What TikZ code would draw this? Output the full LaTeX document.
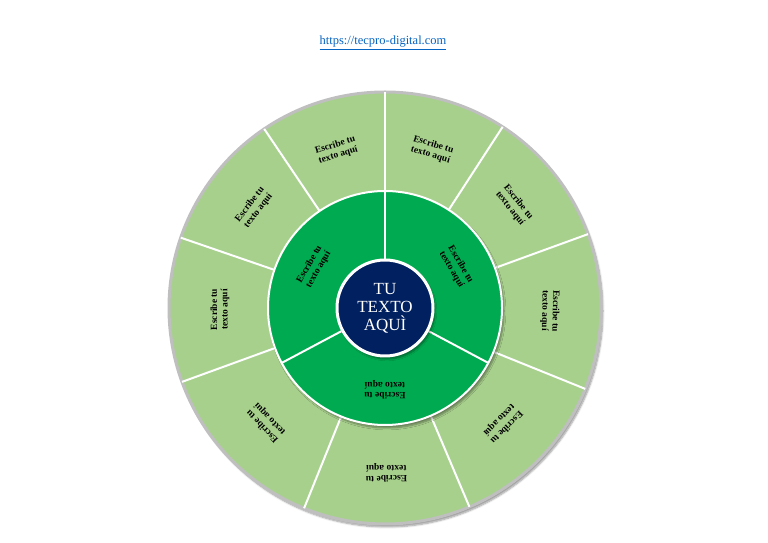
\documentclass[tikz,border=0pt]{standalone}
\usepackage{fontspec}
\setmainfont{Liberation Serif}
\usetikzlibrary{shadows.blur}
\definecolor{outerg}{RGB}{168,208,141}
\definecolor{ringg}{RGB}{0,170,80}
\definecolor{navy}{RGB}{0,32,96}
\definecolor{linkb}{RGB}{5,99,193}
\tikzset{
  divider/.style={draw=white,line width=2pt},
  small/.style={font=\fontsize{9.5}{10.5}\selectfont\bfseries,align=center,text=black,inner sep=1pt},
}
\begin{document}
\begin{tikzpicture}[x=1pt,y=1pt]
\useasboundingbox (0,0) rectangle (768,543);
\coordinate (c) at (385,235);
\node[font=\fontsize{12.5}{14}\selectfont,text=linkb] (link) at (383,500) {\underline{https://tecpro-digital.com}};
% outer disc
\fill[outerg,draw=gray!50,line width=3pt,blur shadow={shadow blur steps=6,shadow xshift=2pt,shadow yshift=-3pt}] (c) circle (216);
\foreach \a in {90,57,20,-22,-67,-112,-160,161,124}
  \draw[divider] (c) -- ++(\a:216);
\foreach \m/\n in {73.5/o1,38.5/o2,-1/o3,-44.5/o4,-89.5/o5,-136/o6,180.5/o7,142.5/o8,107/o9}
  \node[small,rotate=\m-90] (\n) at ($(c)+(\m:165)$) {Escribe tu\\texto aquí};
% middle ring
\fill[ringg,blur shadow={shadow blur steps=6,shadow xshift=2pt,shadow yshift=-3pt}] (c) circle (117);
\draw[white,line width=2pt] (c) circle (117);
\foreach \a in {90,-28,208}
  \draw[divider] (c) -- ++(\a:117);
\foreach \m/\n in {30/r1,-90/r2,150/r3}
  \node[small,rotate=\m-90] (\n) at ($(c)+(\m:82)$) {Escribe tu\\texto aquí};
% center
\node[circle,fill=navy,draw=white,line width=3pt,minimum size=96pt,inner sep=0pt,blur shadow={shadow blur steps=6,shadow xshift=2pt,shadow yshift=-3pt},
  text=white,font=\fontsize{17}{18}\selectfont,align=center] (center) at (c) {TU\\TEXTO\\AQUÌ};
\end{tikzpicture}
\end{document}
